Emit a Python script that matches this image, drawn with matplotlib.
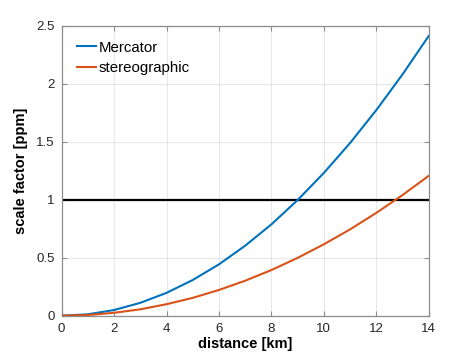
import matplotlib
matplotlib.use("Agg")
import matplotlib.pyplot as plt

plt.rcParams['font.family'] = ['Liberation Sans', 'DejaVu Sans']

distance_km = [0, 1, 2, 3, 4, 5, 6, 7, 8, 9, 10, 11, 12, 13, 14]
mercator = [0, 0.012, 0.049, 0.111, 0.197, 0.308, 0.443, 0.604, 0.788,
            0.998, 1.232, 1.490, 1.774, 2.082, 2.414]
stereographic = [0, 0.006, 0.025, 0.055, 0.099, 0.154, 0.222, 0.302, 0.394,
                 0.499, 0.616, 0.745, 0.887, 1.041, 1.207]
reference_level = 1.0

xticks = [0, 2, 4, 6, 8, 10, 12, 14]
yticks = [0, 0.5, 1, 1.5, 2, 2.5]
yticklabels = ['0', '0.5', '1', '1.5', '2', '2.5']

fig = plt.figure(figsize=(4.74, 3.55), dpi=100)
ax = fig.add_axes([0.130, 0.1107, 0.7745, 0.8161])

blue = (0, 0.447, 0.741)
orange = (0.85, 0.325, 0.098)

ax.plot(distance_km, mercator, color=blue, lw=1.5, label='Mercator', zorder=3)
ax.plot(distance_km, stereographic, color=orange, lw=1.5, label='stereographic', zorder=3)
ax.axhline(reference_level, color='black', lw=1.6, zorder=2)

ax.set_xlim(0, 14)
ax.set_ylim(0, 2.5)
ax.set_xticks(xticks)
ax.set_yticks(yticks)
ax.set_yticklabels(yticklabels)
ax.grid(True, color=(0.15, 0.15, 0.15), alpha=0.10, lw=0.8)
ax.set_axisbelow(True)

for s in ax.spines.values():
    s.set_color((0.55, 0.55, 0.55))
    s.set_linewidth(0.9)

ax.tick_params(direction='in', length=3.5, width=0.8, colors=(0.55, 0.55, 0.55),
               labelcolor=(0.15, 0.15, 0.15), labelsize=9.5, top=True, right=True, pad=5)

ax.set_xlabel('distance [km]', fontsize=10.5, fontweight='bold', color='black', labelpad=2)
ax.set_ylabel('scale factor [ppm]', fontsize=10.5, fontweight='bold', color='black', labelpad=6)

leg = ax.legend(loc='upper left', frameon=False, fontsize=10.8, handlelength=1.25,
                handletextpad=0.2, labelspacing=0.42, borderaxespad=0.0,
                bbox_to_anchor=(0.025, 0.97))

fig.savefig('out.png', dpi=100)
